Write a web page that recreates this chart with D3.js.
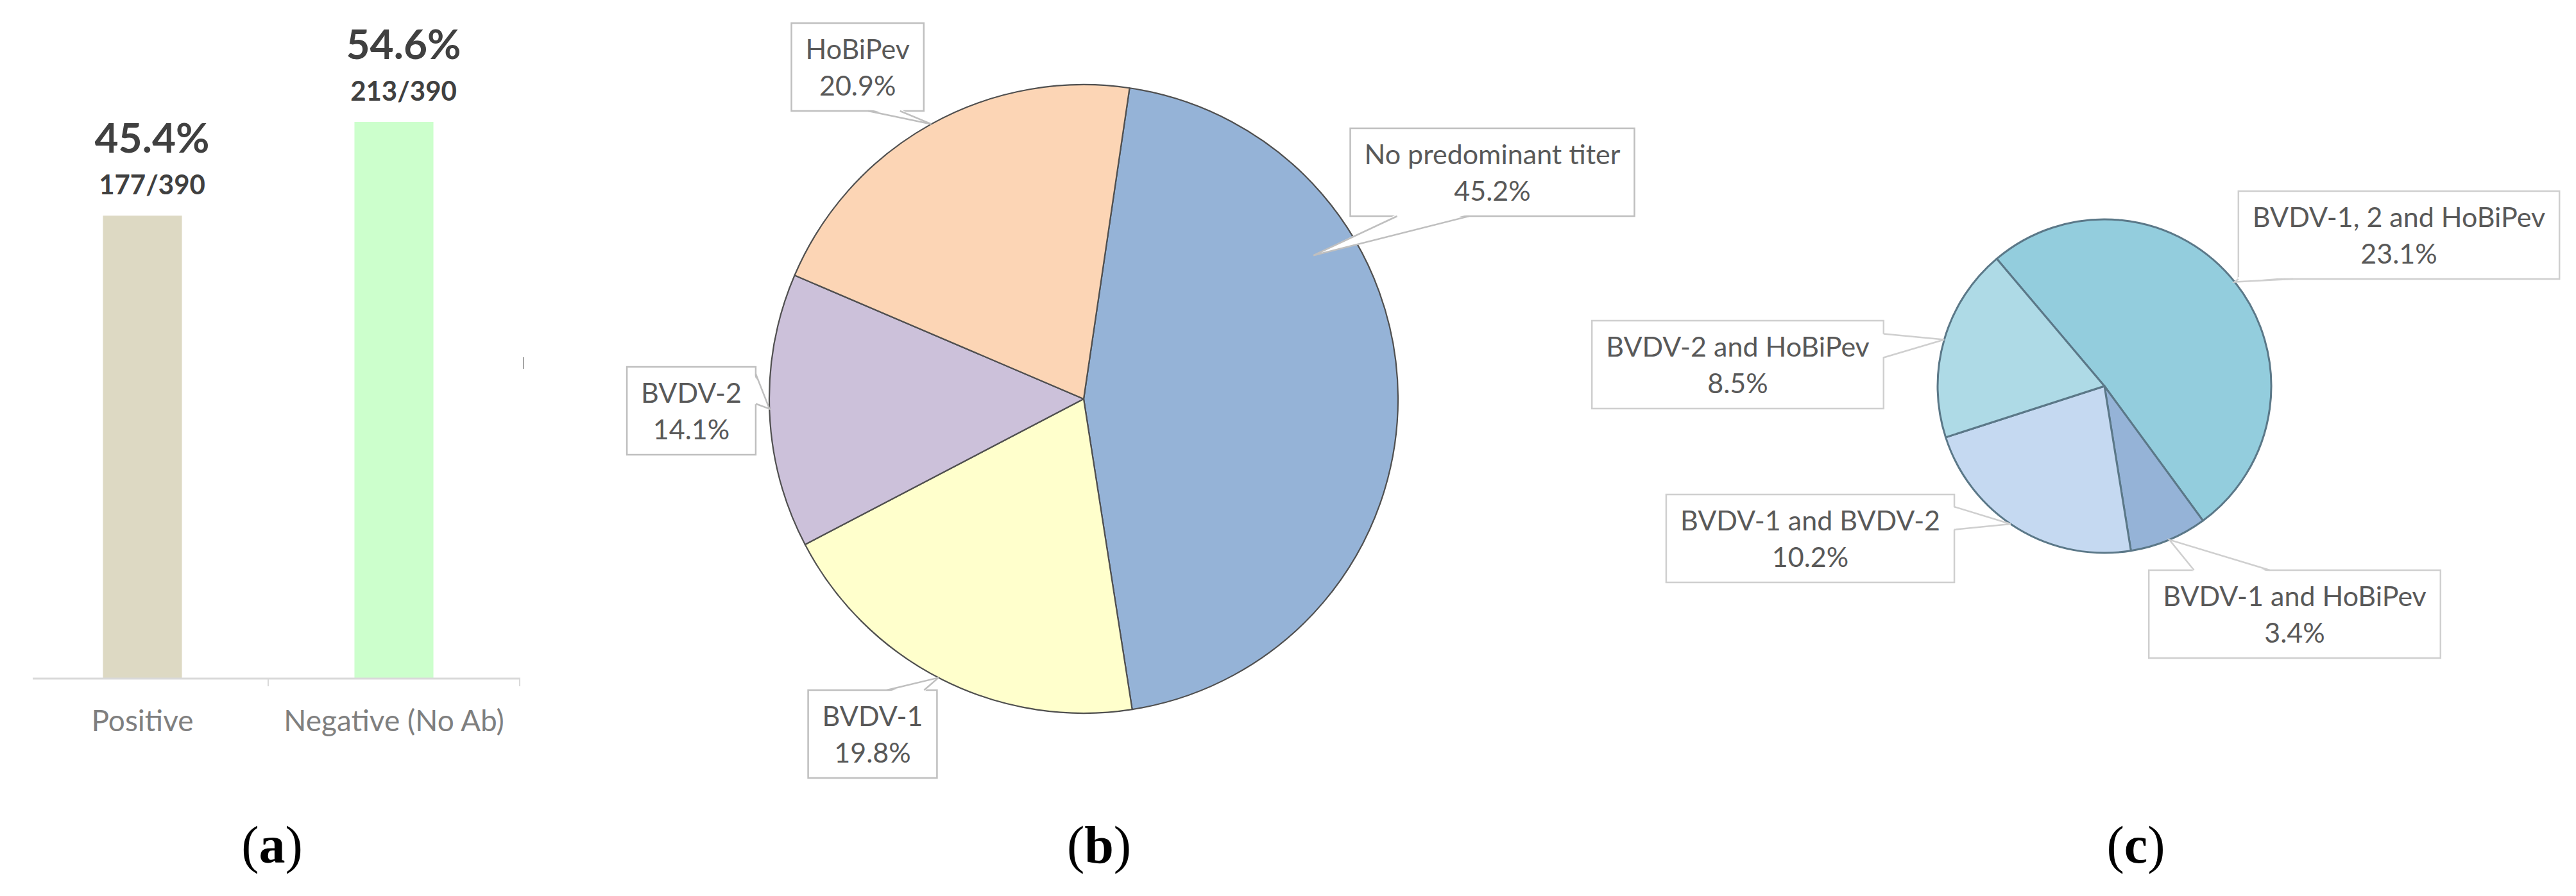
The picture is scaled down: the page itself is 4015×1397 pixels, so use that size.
<!DOCTYPE html>
<html>
<head>
<meta charset="utf-8">
<script src="https://cdn.jsdelivr.net/npm/d3@7"></script>
<style>
  body { margin: 0; background: #fff; }
  svg { display: block; background: #fff; }
  text { font-family: Lato, "Open Sans", sans-serif; }
  text.caption { font-family: "Liberation Serif", "Times New Roman", serif; }
</style>
</head>
<body>
<svg id="chart" width="4015" height="1397"></svg>
<script>
// (a) antibody status of the herd samples
var statusCategories = ["Positive", "Negative (No Ab)"];
var statusValues = [45.4, 54.6];
var statusCounts = ["177/390", "213/390"];

// (b) predominant titer among positives
var titerCategories = ["No predominant titer", "BVDV-1", "BVDV-2", "HoBiPev"];
var titerValues = [45.2, 19.8, 14.1, 20.9];

// (c) split of the samples with no predominant titer
var mixCategories = ["BVDV-1, 2 and HoBiPev", "BVDV-1 and HoBiPev", "BVDV-1 and BVDV-2", "BVDV-2 and HoBiPev"];
var mixValues = [23.1, 3.4, 10.2, 8.5];

var captionLetters = ["a", "b", "c"];

function main() {
	var svg = d3.select("#chart");
	var pct = function(v) { return d3.format(".1f")(v) + "%"; };

	// ---------- (a) bar chart ----------
	var baseY = 1058;
	var xScale = d3.scaleBand()
		.domain(statusCategories)
		.range([26, 810])
		.paddingInner(0.686)
		.paddingOuter(0.343);
	var yScale = d3.scaleLinear()
		.domain([0, d3.max(statusValues)])
		.range([baseY, 190]);
	var barColors = ["#DDD9C3", "#CCFFCC"];

	var ga = svg.append("g");

	ga.selectAll(".bar")
		.data(statusValues)
		.enter().append("rect")
		.attr("class", "bar")
		.attr("x", function(d, i) { return xScale(statusCategories[i]); })
		.attr("y", function(d) { return yScale(d); })
		.attr("width", xScale.bandwidth())
		.attr("height", function(d) { return baseY - yScale(d); })
		.attr("fill", function(d, i) { return barColors[i]; });

	// axis line, starts a little inside the band range like the original crop
	ga.append("line")
		.attr("x1", 51).attr("x2", xScale.range()[1] + 1)
		.attr("y1", baseY).attr("y2", baseY)
		.attr("stroke", "#D9D9D9").attr("stroke-width", 3);
	// ticks between categories
	d3.range(1, statusCategories.length + 1).forEach(function(i) {
		var tx = xScale.range()[0] + i * xScale.step();
		ga.append("line")
			.attr("x1", tx).attr("x2", tx)
			.attr("y1", baseY).attr("y2", baseY + 12)
			.attr("stroke", "#D9D9D9").attr("stroke-width", 2);
	});
	// stray mark at the right edge of the plot area
	ga.append("line")
		.attr("x1", 816).attr("x2", 816).attr("y1", 557).attr("y2", 575)
		.attr("stroke", "#A6A6A6").attr("stroke-width", 2);

	statusCategories.forEach(function(c, i) {
		var cx = xScale(c) + xScale.bandwidth() / 2;
		var top = yScale(statusValues[i]);
		ga.append("text")
			.attr("x", cx + 15).attr("y", top - 98)
			.attr("text-anchor", "middle")
			.attr("font-size", 64).attr("font-weight", "bold")
			.attr("fill", "#404040")
			.text(pct(statusValues[i]));
		ga.append("text")
			.attr("x", cx + 15).attr("y", top - 33)
			.attr("text-anchor", "middle")
			.attr("font-size", 42).attr("font-weight", "bold")
			.attr("fill", "#404040")
			.text(statusCounts[i]);
		ga.append("text")
			.attr("x", cx).attr("y", 1140)
			.attr("text-anchor", "middle")
			.attr("font-size", 46)
			.attr("fill", "#7F7F7F")
			.text(c);
	});

	// ---------- pies ----------
	function drawPie(cfg) {
		var start = cfg.start * Math.PI / 180;
		var pie = d3.pie().sort(null).startAngle(start).endAngle(start + 2 * Math.PI);
		var arc = d3.arc().innerRadius(0).outerRadius(cfg.r);
		var arcs = pie(cfg.values);

		svg.append("g")
			.attr("transform", "translate(" + cfg.cx + "," + cfg.cy + ")")
			.selectAll("path")
			.data(arcs)
			.enter().append("path")
			.attr("d", arc)
			.attr("fill", function(d, i) { return cfg.colors[i]; })
			.attr("stroke", cfg.stroke)
			.attr("stroke-width", cfg.strokeWidth)
			.attr("stroke-linejoin", "round");

		// callout boxes
		cfg.callouts.forEach(function(lb, i) {
			var g = svg.append("g");
			var rect = g.append("rect");
			var wedge = g.append("path");
			var sides = g.append("path");
			var t = g.append("text")
				.attr("text-anchor", "middle")
				.attr("font-size", 43)
				.attr("fill", "#595959");
			var l1 = t.append("tspan").attr("x", lb.x).attr("y", lb.top + 56).text(cfg.categories[i]);
			var l2 = t.append("tspan").attr("x", lb.x).attr("y", lb.top + 113).text(pct(cfg.values[i]));

			var w = Math.max(l1.node().getComputedTextLength(), l2.node().getComputedTextLength()) + 44;
			var h = 137;
			var x0 = lb.x - w / 2, y0 = lb.top, x1 = x0 + w, y1 = y0 + h;

			rect.attr("x", x0).attr("y", y0).attr("width", w).attr("height", h)
				.attr("fill", "#fff").attr("stroke", cfg.boxStroke).attr("stroke-width", 2.5);

			var a = lb.tip[0] * Math.PI / 180;
			var tip = [cfg.cx + lb.tip[1] * cfg.r * Math.sin(a), cfg.cy - lb.tip[1] * cfg.r * Math.cos(a)];
			var A, B, inset;
			if (lb.side === "bottom") {
				A = [x0 + lb.base[0] * w, y1]; B = [x0 + lb.base[1] * w, y1]; inset = [0, -3];
			} else if (lb.side === "top") {
				A = [x0 + lb.base[0] * w, y0]; B = [x0 + lb.base[1] * w, y0]; inset = [0, 3];
			} else {
				A = [x1, y0 + lb.base[0] * h]; B = [x1, y0 + lb.base[1] * h]; inset = [-3, 0];
			}
			wedge.attr("d", "M" + (A[0] + inset[0]) + "," + (A[1] + inset[1]) +
					"L" + tip[0] + "," + tip[1] +
					"L" + (B[0] + inset[0]) + "," + (B[1] + inset[1]) + "Z")
				.attr("fill", "#fff");
			sides.attr("d", "M" + A[0] + "," + A[1] + "L" + tip[0] + "," + tip[1] + "L" + B[0] + "," + B[1])
				.attr("fill", "none").attr("stroke", cfg.boxStroke).attr("stroke-width", 2.5)
				.attr("stroke-linejoin", "miter");
		});
	}

	// (b)
	drawPie({
		cx: 1689, cy: 622, r: 490, start: 8.4,
		values: titerValues, categories: titerCategories,
		colors: ["#95B3D7", "#FFFFCC", "#CCC1DA", "#FCD5B5"],
		stroke: "#4F4F4F", strokeWidth: 2.2, boxStroke: "#BFBFBF",
		callouts: [
			{ x: 2326, top: 200, side: "bottom", base: [0.165, 0.418], tip: [58.0, 0.862] },
			{ x: 1360, top: 1076, side: "top", base: [0.61, 0.90], tip: [207.5, 1.0] },
			{ x: 1077.5, top: 572, side: "right", base: [0.08, 0.42], tip: [268.2, 1.0] },
			{ x: 1336.7, top: 36, side: "bottom", base: [0.58, 0.82], tip: [331.0, 1.0] }
		]
	});

	// (c)
	drawPie({
		cx: 3280, cy: 602, r: 260, start: -40.2,
		values: mixValues, categories: mixCategories,
		colors: ["#93CDDD", "#95B3D7", "#C5D9F1", "#AEDAE6"],
		stroke: "#5B7888", strokeWidth: 3, boxStroke: "#CFCFCF",
		callouts: [
			{ x: 3739, top: 298, side: "bottom", base: [0.0, 0.17], tip: [51.3, 1.0] },
			{ x: 3576.5, top: 889, side: "top", base: [0.155, 0.415], tip: [157.1, 1.0] },
			{ x: 2821.5, top: 771, side: "right", base: [0.14, 0.40], tip: [214.2, 1.0] },
			{ x: 2708.5, top: 500, side: "right", base: [0.15, 0.42], tip: [286.2, 1.0] }
		]
	});

	// ---------- panel captions ----------
	var captionX = [424, 1713, 3329];
	captionLetters.forEach(function(c, i) {
		var t = svg.append("text")
			.attr("class", "caption")
			.attr("x", captionX[i]).attr("y", 1345)
			.attr("text-anchor", "middle")
			.attr("font-size", 82)
			.attr("fill", "#000");
		t.append("tspan").text("(");
		t.append("tspan").attr("font-weight", "bold").text(c);
		t.append("tspan").text(")");
	});
}

main();
</script>
</body>
</html>
